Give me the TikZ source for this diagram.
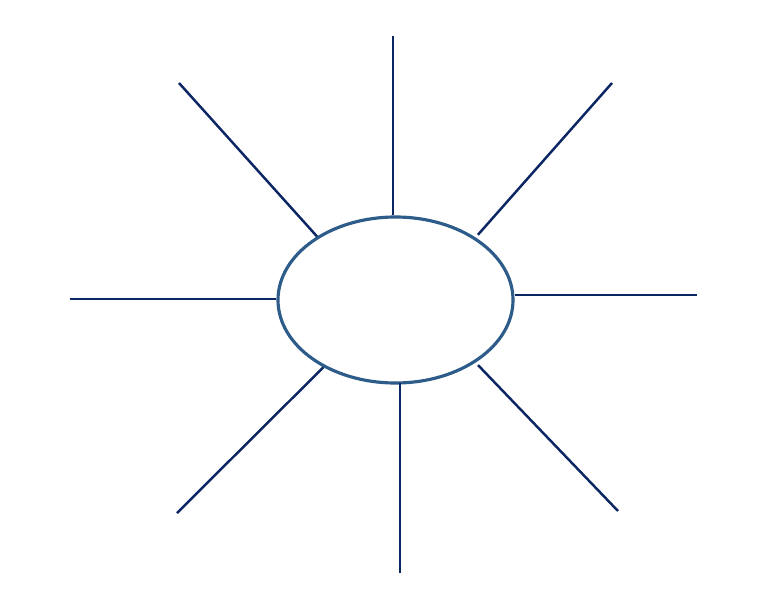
\documentclass[tikz,border=0pt]{standalone}
\usepackage{tikz}
\usetikzlibrary{shapes.geometric,calc}
\definecolor{hubblue}{RGB}{46,92,138}
\definecolor{spokeblue}{RGB}{12,38,100}
\tikzset{
    spoke/.style = {draw=spokeblue, line width=2.1pt},
    hub/.style   = {ellipse, draw=hubblue, line width=2.7pt, fill=white,
            minimum width=7.05cm, minimum height=4.98cm, inner sep=0pt},
}
\begin{document}
\begin{tikzpicture}[x=0.03cm, y=-0.03cm]
    \useasboundingbox[fill=white] (0,0) rectangle (768,594);
    % Nodes
    \node[hub] (hub) at (395.5,300) {};
    \coordinate (n)  at (393,36);
    \coordinate (ne) at (612,83);
    \coordinate (e)  at (697,295);
    \coordinate (se) at (618,511);
    \coordinate (s)  at (400,573);
    \coordinate (sw) at (177,513);
    \coordinate (w)  at (70,299);
    \coordinate (nw) at (179,83);
    % Spokes
    \draw[spoke, line width=1.5pt] (n) -- (n |- hub.north);
    \draw[spoke, shorten >=3pt] (ne) -- (hub.38);
    \draw[spoke] (e) -- (e -| hub.east);
    \draw[spoke, shorten >=3pt] (se) -- (hub.322);
    \draw[spoke] (s) -- ($(s |- hub.south)+(0,-2)$);
    \draw[spoke] (sw) -- (hub.223);
    \draw[spoke] (w) -- (w -| hub.west);
    \draw[spoke] (nw) -- (hub.141);
\end{tikzpicture}
\end{document}
